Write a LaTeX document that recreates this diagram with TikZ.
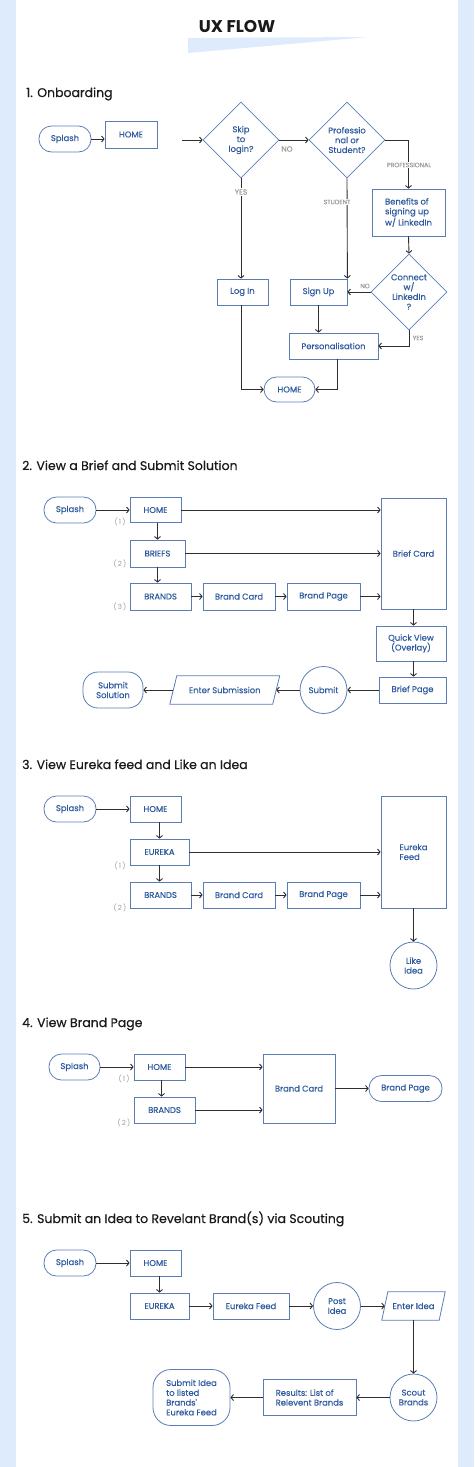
\documentclass[tikz,border=0pt]{standalone}
\usepackage{fontspec}
\setmainfont{Poppins}
\newfontfamily\medfont{Poppins}[FakeBold=0.35]
\usetikzlibrary{shapes.geometric,arrows.meta,calc}
\definecolor{bord}{HTML}{5B7DB6}
\definecolor{txt}{HTML}{2F5B9E}
\definecolor{arr}{HTML}{2E2E2E}
\definecolor{lbl}{HTML}{9C9C9C}
\definecolor{strip}{HTML}{DDEBFC}
\definecolor{headc}{HTML}{1A1A1A}
\begin{document}
\begin{tikzpicture}[x=1pt,y=-1pt,
  base/.style={draw=bord,line width=0.8pt,text=txt,font=\medfont\fontsize{8.4}{9.8}\selectfont,inner sep=0pt,align=center},
  sq/.style={base,rectangle},
  pill/.style={base,rectangle,rounded corners=12.5pt},
  circ/.style={base,circle,minimum size=47pt},
  dia/.style={base,diamond,aspect=1,minimum size=76pt},
  pgram/.style={text=txt,font=\medfont\fontsize{8.4}{9.8}\selectfont,inner sep=0pt,align=center},
  arrow/.style={draw=arr,line width=0.9pt,-{Straight Barb[length=2.5pt,width=6pt]}},
  lab/.style={text=lbl,font=\medfont\fontsize{6.3}{7}\selectfont,inner sep=1pt},
  labbig/.style={text=lbl,font=\medfont\fontsize{7.5}{8}\selectfont,inner sep=1pt},
  labw/.style={lab,fill=white},
  num/.style={text=lbl,font=\fontsize{7}{8}\selectfont,inner sep=0pt},
  head/.style={anchor=base west,text=headc,font=\medfont\fontsize{12.5}{14}\selectfont,inner sep=0pt}
]
% background
\fill[strip] (0,0) rectangle (474,1467);
\fill[white] (16,0) rectangle (458,1467);
% title
\fill[strip] (188,38) -- (368,37) -- (188,53) -- cycle;
\node[anchor=base,text=headc,font=\bfseries\fontsize{17}{20}\selectfont,inner sep=0pt] (title) at (237,32) {UX FLOW};

% ---------------- Section 1 ----------------
\node[head] (h1) at (26,97) {1. Onboarding};
\node[pill,minimum width=52pt,minimum height=26pt] (s1splash) at (65,139) {Splash};
\node[sq,minimum width=52pt,minimum height=27pt] (s1home) at (131,134.5) {HOME};
\coordinate (s1in) at (182,140);
\node[dia] (s1skip) at (241,140) {Skip\\to\\login?};
\node[dia] (s1prof) at (347,140) {Professio\\nal or\\Student?};
\node[sq,minimum width=73pt,minimum height=47pt,align=left] (s1ben) at (408.5,212.5) {Benefits of\\signing up\\w/ LinkedIn};
\node[dia] (s1conn) at (409,292) {Connect\\w/\\LinkedIn\\?};
\node[sq,minimum width=57pt,minimum height=26pt] (s1sign) at (318.5,292) {Sign Up};
\node[sq,minimum width=51pt,minimum height=26pt] (s1login) at (242.5,292) {Log In};
\node[sq,minimum width=89pt,minimum height=26pt] (s1pers) at (333.5,346) {Personalisation};
\node[pill,minimum width=51pt,minimum height=25pt] (s1home2) at (289.5,389.5) {HOME};

\draw[arrow] (s1splash.east) -- (s1splash.east -| s1home.west);
\draw[arrow] (s1in) -- (s1skip.west);
\draw[arrow] (s1skip.east) -- (s1prof.west);
\draw[arrow] (s1prof.east) -| (s1ben.north);
\draw[arrow] (s1ben.south) -- (s1conn.north);
\draw[arrow] (s1conn.west) -- (s1sign.east);
\draw[arrow] (s1prof.south) -- (s1sign.north east);
\draw[arrow] (s1skip.south) -- (s1skip.south |- s1login.north);
\draw[arrow] (s1sign.south) -- (s1sign.south |- s1pers.north);
\draw[arrow] (s1conn.south) |- (s1pers.east);
\draw[arrow] (s1skip.south |- s1login.south) |- (s1home2.west);
\draw[arrow] ([xshift=3.5pt]s1pers.south) |- (s1home2.east);
\node[labbig] (l1no) at (287,149) {NO};
\node[labbig,fill=white] (l1yes) at (241,192) {YES};
\node[labw] (l1pro) at (409,165) {PROFESSIONAL};
\node[labw] (l1stu) at (337,202) {STUDENT};
\node[lab] (l1no2) at (365,286) {NO};
\node[lab] (l1yes2) at (418,338) {YES};

% ---------------- Section 2 ----------------
\node[head] (h2) at (22,470) {2. View a Brief and Submit Solution};
\node[pill,minimum width=52pt,minimum height=26pt] (s2splash) at (70,510) {Splash};
\node[sq,minimum width=51pt,minimum height=25pt] (s2home) at (155.5,510) {HOME};
\node[num] (n21) at (120,522) {(\,1\,)};
\node[sq,minimum width=55pt,minimum height=27pt] (s2briefs) at (157.5,553.5) {BRIEFS};
\node[num] (n22) at (120,564) {(\,2\,)};
\node[sq,minimum width=61pt,minimum height=27pt] (s2brands) at (160.5,596.5) {BRANDS};
\node[num] (n23) at (120,607) {(\,3\,)};
\node[sq,minimum width=72pt,minimum height=27pt] (s2bcard) at (239,596.5) {Brand Card};
\node[sq,minimum width=73pt,minimum height=27pt] (s2bpage) at (323.5,596.5) {Brand Page};
\node[sq,minimum width=65pt,minimum height=111pt] (s2brief) at (413.5,553.5) {Brief Card};
\node[sq,minimum width=70pt,minimum height=35pt] (s2quick) at (411,643.5) {Quick View\\(Overlay)};
\node[sq,minimum width=67pt,minimum height=26pt] (s2bp) at (412.5,690) {Brief Page};
\node[circ] (s2submit) at (323.5,690) {Submit};
\node[pgram,minimum width=102.5pt,minimum height=28pt] (s2enter) at (224.75,690) {Enter Submission};
\draw[draw=bord,line width=0.8pt] ([xshift=3.5pt]s2enter.north west) -- ([xshift=3.5pt]s2enter.north east) -- ([xshift=-3.5pt]s2enter.south east) -- ([xshift=-3.5pt]s2enter.south west) -- cycle;
\node[base,rectangle,rounded corners=15pt,minimum width=60pt,minimum height=36pt] (s2sol) at (113,690) {Submit\\Solution};

\draw[arrow] (s2splash.east) -- (s2home.west);
\draw[arrow] (s2home.east) -- (s2home.east -| s2brief.west);
\draw[arrow] (s2briefs.north |- s2home.south) -- (s2briefs.north);
\draw[arrow] (s2briefs.east) -- (s2briefs.east -| s2brief.west);
\draw[arrow] (s2briefs.south) -- (s2briefs.south |- s2brands.north);
\draw[arrow] (s2brands.east) -- (s2bcard.west);
\draw[arrow] (s2bcard.east) -- (s2bpage.west);
\draw[arrow] (s2bpage.east) -- (s2bpage.east -| s2brief.west);
\draw[arrow] (s2brief.south) -- (s2brief.south |- s2quick.north);
\draw[arrow] (s2brief.south |- s2quick.south) -- (s2brief.south |- s2bp.north);
\draw[arrow] (s2bp.west) -- (s2submit.east);
\draw[arrow] (s2submit.west) -- (s2enter.east);
\draw[arrow] (s2enter.west) -- (s2sol.east);

% ---------------- Section 3 ----------------
\node[head] (h3) at (22,769) {3. View Eureka feed and Like an Idea};
\node[pill,minimum width=52pt,minimum height=26pt] (s3splash) at (70,809) {Splash};
\node[sq,minimum width=51pt,minimum height=26pt] (s3home) at (155.5,809) {HOME};
\node[sq,minimum width=59pt,minimum height=26pt] (s3eureka) at (159.5,852) {EUREKA};
\node[num] (n31) at (120,866) {(\,1\,)};
\node[sq,minimum width=61pt,minimum height=26pt] (s3brands) at (160.5,895) {BRANDS};
\node[num] (n32) at (120,908) {(\,2\,)};
\node[sq,minimum width=72pt,minimum height=26pt] (s3bcard) at (239,895) {Brand Card};
\node[sq,minimum width=73pt,minimum height=26pt] (s3bpage) at (323.5,895) {Brand Page};
\node[sq,minimum width=65pt,minimum height=112pt,align=left] (s3feed) at (413.5,852) {Eureka\\Feed};
\node[circ] (s3like) at (413.5,965.5) {Like\\Idea};

\draw[arrow] (s3splash.east) -- (s3home.west);
\draw[arrow] (s3eureka.north |- s3home.south) -- (s3eureka.north);
\draw[arrow] (s3eureka.east) -- (s3eureka.east -| s3feed.west);
\draw[arrow] (s3eureka.south) -- (s3eureka.south |- s3brands.north);
\draw[arrow] (s3brands.east) -- (s3bcard.west);
\draw[arrow] (s3bcard.east) -- (s3bpage.west);
\draw[arrow] (s3bpage.east) -- (s3bpage.east -| s3feed.west);
\draw[arrow] (s3feed.south) -- (s3like.north);

% ---------------- Section 4 ----------------
\node[head] (h4) at (22,1027) {4. View Brand Page};
\node[pill,minimum width=51pt,minimum height=26pt] (s4splash) at (74.5,1067) {Splash};
\node[sq,minimum width=51pt,minimum height=26pt] (s4home) at (159.5,1067) {HOME};
\node[num] (n41) at (124,1079) {(\,1\,)};
\node[sq,minimum width=61pt,minimum height=26pt] (s4brands) at (164.5,1110) {BRANDS};
\node[num] (n42) at (124,1123) {(\,2\,)};
\node[sq,minimum width=72pt,minimum height=69pt] (s4bcard) at (299,1088.5) {Brand Card};
\node[pill,minimum width=73pt,minimum height=26pt] (s4bpage) at (405.5,1088.5) {Brand Page};

\draw[arrow] (s4splash.east) -- (s4home.west);
\draw[arrow] (s4home.east) -- (s4home.east -| s4bcard.west);
\draw[arrow] ([xshift=2pt]s4home.south) -- ([xshift=2pt]s4home.south |- s4brands.north);
\draw[arrow] (s4brands.east) -- (s4brands.east -| s4bcard.west);
\draw[arrow] (s4bcard.east) -- (s4bpage.west);

% ---------------- Section 5 ----------------
\node[head] (h5) at (22,1223) {5. Submit an Idea to Revelant Brand(s) via Scouting};
\node[pill,minimum width=52pt,minimum height=26pt] (s5splash) at (70,1263) {Splash};
\node[sq,minimum width=51pt,minimum height=26pt] (s5home) at (155.5,1263) {HOME};
\node[sq,minimum width=59pt,minimum height=26pt] (s5eureka) at (159.5,1306) {EUREKA};
\node[sq,minimum width=76pt,minimum height=26pt] (s5feed) at (251,1306) {Eureka Feed};
\node[circ] (s5post) at (337,1306) {Post\\Idea};
\node[pgram,minimum width=57pt,minimum height=28pt] (s5enter) at (413.5,1306) {Enter Idea};
\draw[draw=bord,line width=0.8pt] ([xshift=3pt]s5enter.north west) -- ([xshift=3pt]s5enter.north east) -- ([xshift=-3pt]s5enter.south east) -- ([xshift=-3pt]s5enter.south west) -- cycle;
\node[circ] (s5scout) at (413.5,1397.5) {Scout\\Brands};
\node[sq,minimum width=93pt,minimum height=36pt,align=left] (s5res) at (309.5,1397.5) {Results: List of\\Relevent Brands};
\node[base,rectangle,rounded corners=18pt,minimum width=77pt,minimum height=56pt,align=left] (s5sub) at (191.5,1397.5) {Submit Idea\\to listed\\Brands'\\Eureka Feed};

\draw[arrow] (s5splash.east) -- (s5home.west);
\draw[arrow] (s5eureka.north |- s5home.south) -- (s5eureka.north);
\draw[arrow] (s5eureka.east) -- (s5feed.west);
\draw[arrow] (s5feed.east) -- (s5post.west);
\draw[arrow] (s5post.east) -- (s5enter.west);
\draw[arrow] (s5enter.south) -- (s5scout.north);
\draw[arrow] (s5scout.west) -- (s5res.east);
\draw[arrow] (s5res.west) -- (s5sub.east);
\end{tikzpicture}
\end{document}
